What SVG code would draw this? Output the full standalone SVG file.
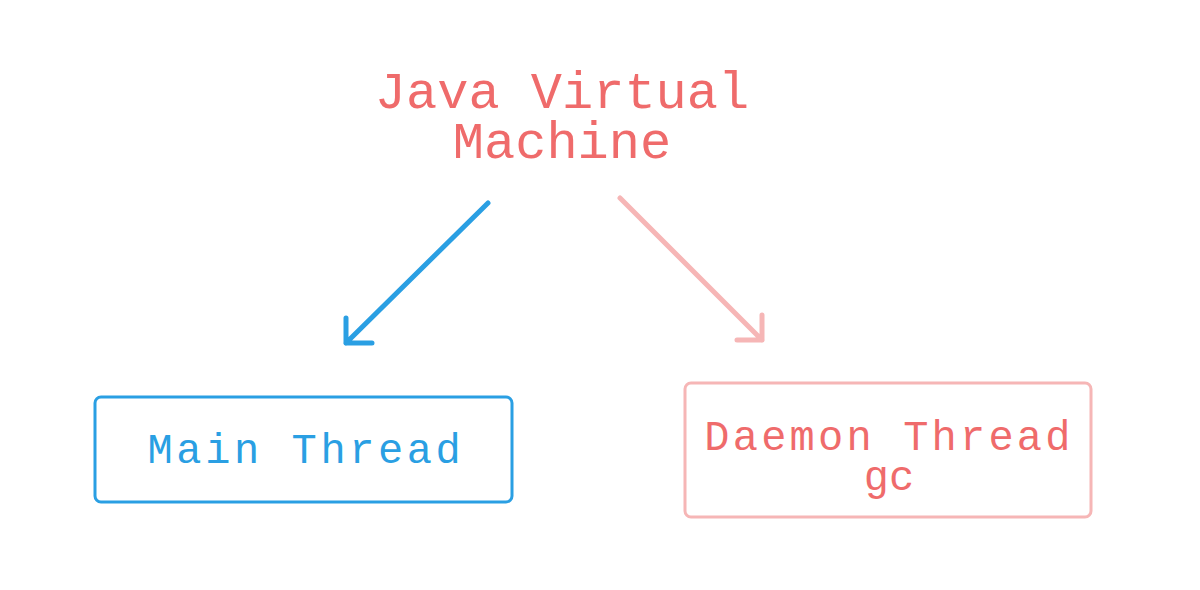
<svg xmlns="http://www.w3.org/2000/svg" width="1200" height="590" viewBox="0 0 1200 590">
<style>
.t{font-family:"Liberation Mono","DejaVu Sans Mono",monospace;text-anchor:middle}
.red{fill:#ef6b6b}
.c{fill:none;stroke-width:5;stroke-linecap:round;stroke-linejoin:round}
</style>
<rect width="1200" height="590" fill="#fff"/>
<g id="jvm"><text class="t red" x="562" y="108" font-size="52">Java Virtual</text><text class="t red" x="562" y="158" font-size="52">Machine</text></g>
<g id="main"><rect x="95" y="397" width="417" height="105" rx="6" fill="none" stroke="#2a9fe3" stroke-width="3"/><text class="t" x="306" y="463" font-size="42" letter-spacing="3.6" fill="#2a9fe3">Main Thread</text></g>
<g id="daemon"><rect x="685" y="383" width="406" height="134" rx="6" fill="none" stroke="#f6b6b6" stroke-width="3"/><text class="t red" x="889" y="450" font-size="42" letter-spacing="3.2">Daemon Thread</text><text class="t red" x="889" y="490" font-size="42">gc</text></g>
<g id="connectors">
<path class="c" stroke="#2a9fe3" d="M488 203L346 343M346 318L346 343L372 343"/>
<path class="c" stroke="#f6b6b6" d="M620 198L762 340M762 315L762 340L737 340"/>
</g>
</svg>
